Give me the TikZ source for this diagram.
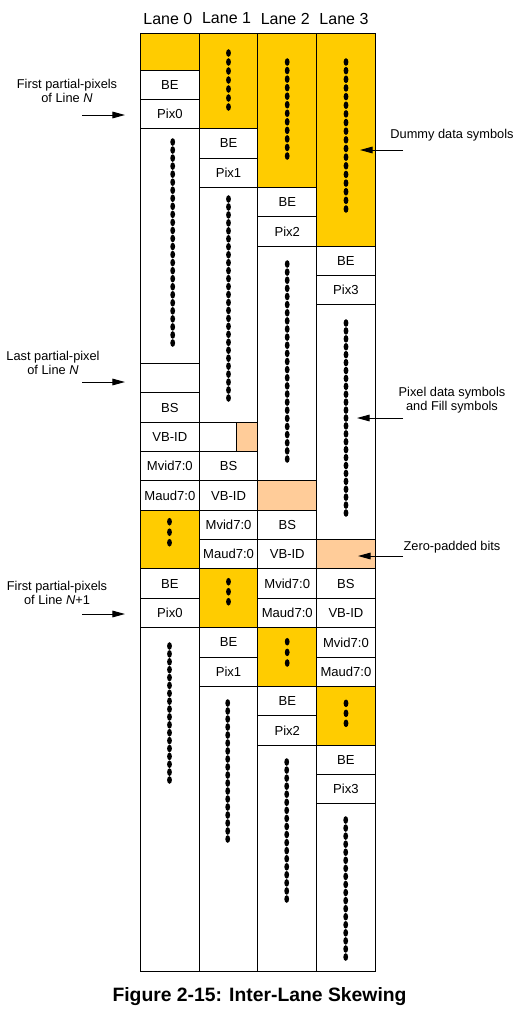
\documentclass[tikz,border=0pt]{standalone}
\usepackage{fontspec}
\setmainfont{Liberation Sans}
\usetikzlibrary{arrows.meta}
\newdimen\pxu \pxu=0.75pt
\definecolor{dummyc}{HTML}{FFCC00}
\definecolor{padc}{HTML}{FFCC99}
\def\rh{29.35}
\tikzset{%
    lanebox/.style={line width=0.7pt},
    cell/.style={draw, line width=0.7pt, minimum width=58.7\pxu, minimum height=29.35\pxu, inner sep=0pt, font=\fontsize{9.8}{11}\selectfont},
    dummy/.style={line width=0.7pt, fill=dummyc},
    lbl/.style={align=center, inner sep=0pt, font=\fontsize{9.6}{10.5}\selectfont},
    pra/.style={line width=0.75pt, -{Triangle[length=9.5pt, width=5pt]}},
    hdr/.style={inner sep=0pt, font=\fontsize{12}{14}\selectfont},
}

\begin{document}
\begin{tikzpicture}[x=0.75pt, y=-0.75pt]
    \useasboundingbox (0,0) rectangle (519,1018);
    % lanes
    \foreach \l in {0,...,3}{
        \pgfmathsetmacro\xl{140.5+\l*58.7}
        \pgfmathsetmacro\xc{\xl+29.35}
        \pgfmathsetmacro\xr{\xl+58.7}
        \pgfmathsetmacro\o{2*\l}
        \node[hdr] (lane\l) at (\xc-2,18.5) {Lane \l};
        \draw[lanebox] (\xl,33) rectangle (\xr,971);
        \draw[dummy] (\xl,33) rectangle (\xr,{70+\o*\rh});
        \node[cell] (beA\l) at (\xc,{70+(\o+0.5)*\rh}) {BE};
        \node[cell] (pixA\l) at (\xc,{70+(\o+1.5)*\rh}) {Pix\l};
        \node[cell] (bs\l) at (\xc,{70+(\o+11.5)*\rh}) {BS};
        \node[cell] (vbid\l) at (\xc,{70+(\o+12.5)*\rh}) {VB-ID};
        \node[cell] (mvid\l) at (\xc,{70+(\o+13.5)*\rh}) {Mvid7:0};
        \node[cell] (maud\l) at (\xc,{70+(\o+14.5)*\rh}) {Maud7:0};
        \draw[dummy] (\xl,{70+(\o+15)*\rh}) rectangle (\xr,{70+(\o+17)*\rh});
        \node[cell] (beB\l) at (\xc,{70+(\o+17.5)*\rh}) {BE};
        \node[cell] (pixB\l) at (\xc,{70+(\o+18.5)*\rh}) {Pix\l};
    }
    % last partial pixels
    \node[cell] (part0) at (169.85,{70+10.5*\rh}) {};
    \node[cell] (part1) at (228.55,{70+12.5*\rh}) {};
    \node[cell, fill=padc, minimum width=21.2\pxu, anchor=east] (pad1) at (part1.east) {};
    \node[cell, fill=padc] (part2) at (287.25,{70+14.5*\rh}) {};
    \node[cell, fill=padc] (part3) at (345.95,{70+16.5*\rh}) {};
    % dot columns
    \foreach \x/\ya/\yb/\n in {228.5/53/107/6, 287.2/62/156/11, 346/62/209/17,
        172.7/142/343/25, 228.5/199/398/25, 287.2/264/459/24, 346/323/513/24,
        169.5/521.7/542.7/2, 228.5/581.7/601.7/2, 287.2/641.7/663/2, 346/703.3/723.3/2,
        169.5/646/780/17, 227.7/703/839/17, 286.7/762/899/17, 345.7/820/957/17}{
        \pgfmathsetmacro\st{(\yb-\ya)/\n}
        \foreach \k in {0,...,\n}
            \fill (\x,{\ya+\k*\st}) ellipse (2.4 and 3.8);
    }
    % annotations
    \node[lbl] (firstN) at (67,91) {First partial-pixels\\of Line \textit{N}};
    \node[lbl] (lastN) at (53,363) {Last partial-pixel\\of Line \textit{N}};
    \node[lbl] (firstNi) at (57,593) {First partial-pixels\\of Line \textit{N}+1};
    \node[lbl] (dummytxt) at (452,135) {Dummy data symbols};
    \node[lbl] (pixtxt) at (452,400) {Pixel data symbols\\and Fill symbols};
    \node[lbl] (zerotxt) at (452,547) {Zero-padded bits};
    \coordinate (a1s) at (82,115);  \coordinate (a1e) at (125,115);
    \coordinate (a2s) at (82,382);  \coordinate (a2e) at (125,382);
    \coordinate (a3s) at (82,614);  \coordinate (a3e) at (125,614);
    \coordinate (a4s) at (403,150); \coordinate (a4e) at (360,150);
    \coordinate (a5s) at (403,418); \coordinate (a5e) at (357,418);
    \coordinate (a6s) at (403,556); \coordinate (a6e) at (358,556);
    \foreach \a in {1,...,6}
        \draw[pra] (a\a s) -- (a\a e);
    \node[inner sep=0pt, font=\fontsize{14.5}{16}\bfseries\selectfont] (caption) at (259.5,997) {Figure 2-15: Inter-Lane Skewing};
\end{tikzpicture}
\end{document}
